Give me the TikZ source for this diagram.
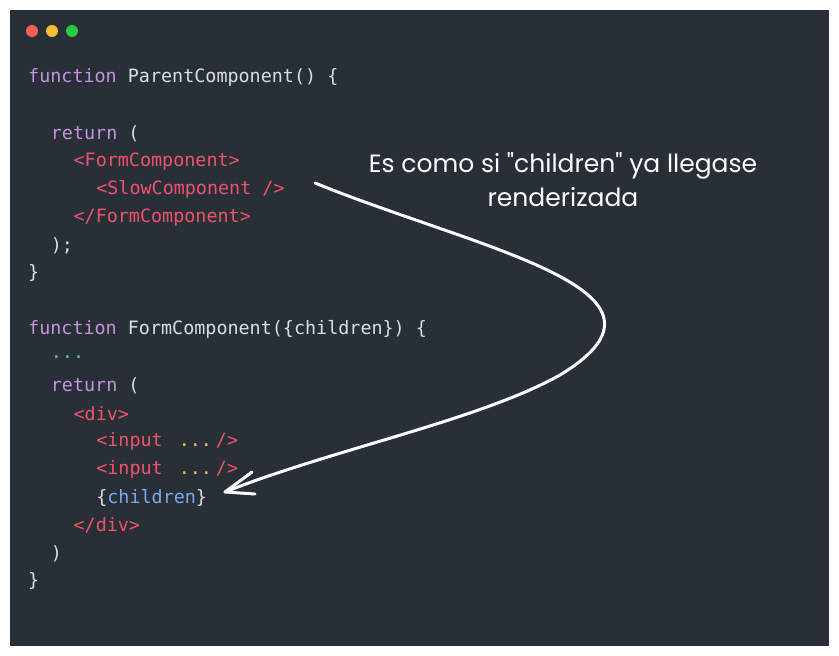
\documentclass[tikz,border=0pt]{standalone}
\usepackage{fontspec}
\setmonofont{DejaVu Sans Mono}
\newfontfamily\hand{Poppins}
\definecolor{bgc}{RGB}{40,47,54}
\definecolor{kw}{RGB}{197,146,224}
\definecolor{tg}{RGB}{240,82,110}
\definecolor{tx}{RGB}{216,222,228}
\definecolor{tl}{RGB}{95,196,184}
\definecolor{yl}{RGB}{245,192,80}
\definecolor{bl}{RGB}{122,170,240}
\begin{document}
\begin{tikzpicture}[x=1pt,y=-1pt,
  code/.style={anchor=west,inner sep=0,font=\ttfamily\fontsize{18.4}{20}\selectfont,text=tx},
  dot/.style={circle,inner sep=0,minimum size=12}]
\useasboundingbox (0,0) rectangle (839,656);
\fill[white] (0,0) rectangle (839,656);
\fill[bgc] (10,10) rectangle (829,646);
\node[dot,fill={rgb,255:red,255;green,95;blue,87}] (d1) at (32,31) {};
\node[dot,fill={rgb,255:red,254;green,188;blue,46}] (d2) at (52,31) {};
\node[dot,fill={rgb,255:red,40;green,200;blue,64}] (d3) at (72,31) {};
\def\cw{11.35}
\def\dy{2.5}
\node[code] (l1) at (28,75+\dy) {\textcolor{kw}{function} ParentComponent() \{};
\node[code] (l2) at (28+2*\cw,131+\dy) {\textcolor{kw}{return} (};
\node[code] (l3) at (28+4*\cw,159+\dy) {\textcolor{tg}{<FormComponent>}};
\node[code] (l4) at (28+6*\cw,187+\dy) {\textcolor{tg}{<SlowComponent />}};
\node[code] (l5) at (28+4*\cw,215+\dy) {\textcolor{tg}{</FormComponent>}};
\node[code] (l6) at (28+2*\cw,243+\dy) {);};
\node[code] (l7) at (28,271+\dy) {\}};
\node[code] (l8) at (28,327+\dy) {\textcolor{kw}{function} FormComponent(\{children\}) \{};
\node[code] (l9) at (28+2*\cw,355+\dy) {\textcolor{tl}{...}};
\node[code] (l10) at (28+2*\cw,383+\dy) {\textcolor{kw}{return} (};
\node[code] (l11) at (28+4*\cw,411+\dy) {\textcolor{tg}{<div>}};
\node[code] (l12) at (28+6*\cw,439+\dy) {\textcolor{tg}{<input}\hspace{16pt}\textcolor{yl}{...}\hspace{4pt}\textcolor{tg}{/>}};
\node[code] (l13) at (28+6*\cw,467+\dy) {\textcolor{tg}{<input}\hspace{16pt}\textcolor{yl}{...}\hspace{4pt}\textcolor{tg}{/>}};
\node[code] (l14) at (28+6*\cw,495+\dy) {\{\textcolor{bl}{children}\}};
\node[code] (l15) at (28+4*\cw,523+\dy) {\textcolor{tg}{</div>}};
\node[code] (l16) at (28+2*\cw,551+\dy) {)};
\node[code] (l17) at (28,579+\dy) {\}};
\node[text=white,align=center,font=\hand\fontsize{25}{34}\selectfont] (note) at (563,180) {Es como si "children" ya llegase\\renderizada};
\coordinate (s) at (315,183);
\coordinate (e) at (225,492);
\draw[white,line width=3,line cap=round] (s) .. controls (480,250) and (700,290) .. (560,375) .. controls (480,420) and (330,450) .. (e);
\draw[white,line width=3,line cap=round,line join=round] (252,472) -- (e) -- (255,494);
\end{tikzpicture}
\end{document}
